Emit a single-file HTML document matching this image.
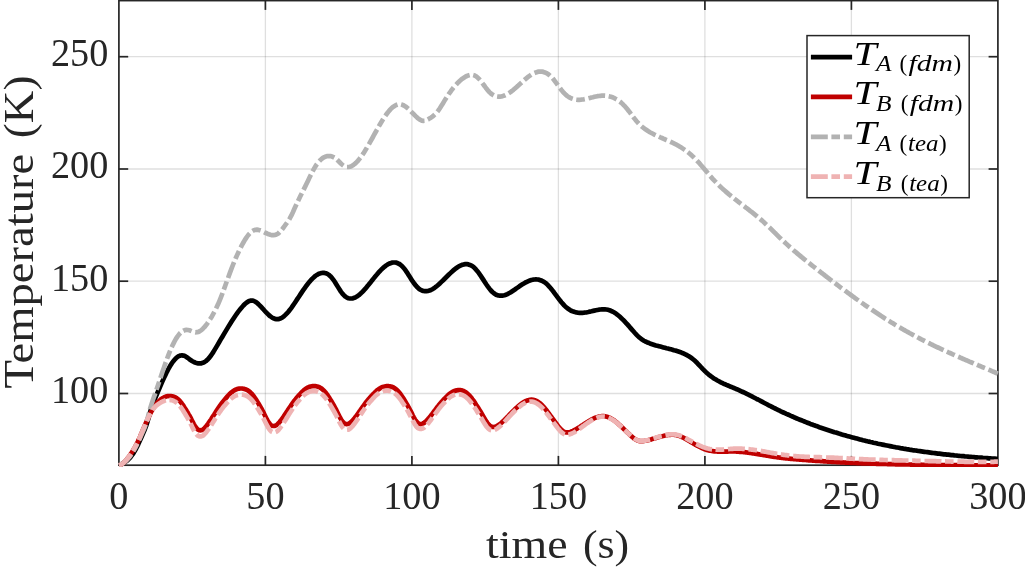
<!DOCTYPE html>
<html lang="en"><head><meta charset="utf-8"><title>Temperature vs time</title>
<style>html,body{margin:0;padding:0;background:#fff;}body{width:1025px;height:569px;overflow:hidden;}</style>
</head><body>
<svg width="1025" height="569" viewBox="0 0 1025 569" style="display:block;font-family:'Liberation Serif',serif">
<rect width="1025" height="569" fill="#fff"/>
<defs><clipPath id="ax"><rect x="117.9" y="-0.4" width="881.0" height="467.4"/></clipPath></defs>
<g stroke="#262626" stroke-opacity="0.15" stroke-width="1.3">
<line x1="265.4" y1="0.6" x2="265.4" y2="465.2"/>
<line x1="411.9" y1="0.6" x2="411.9" y2="465.2"/>
<line x1="558.4" y1="0.6" x2="558.4" y2="465.2"/>
<line x1="704.9" y1="0.6" x2="704.9" y2="465.2"/>
<line x1="851.4" y1="0.6" x2="851.4" y2="465.2"/>
<line x1="118.9" y1="393.5" x2="997.9" y2="393.5"/>
<line x1="118.9" y1="281.2" x2="997.9" y2="281.2"/>
<line x1="118.9" y1="169.0" x2="997.9" y2="169.0"/>
<line x1="118.9" y1="56.7" x2="997.9" y2="56.7"/>
</g>
<g stroke="#262626" stroke-width="1.7" fill="none">
<rect x="118.9" y="0.6" width="879.0" height="464.59999999999997"/>
<line x1="265.4" y1="465.2" x2="265.4" y2="455.9"/>
<line x1="265.4" y1="0.6" x2="265.4" y2="9.9"/>
<line x1="411.9" y1="465.2" x2="411.9" y2="455.9"/>
<line x1="411.9" y1="0.6" x2="411.9" y2="9.9"/>
<line x1="558.4" y1="465.2" x2="558.4" y2="455.9"/>
<line x1="558.4" y1="0.6" x2="558.4" y2="9.9"/>
<line x1="704.9" y1="465.2" x2="704.9" y2="455.9"/>
<line x1="704.9" y1="0.6" x2="704.9" y2="9.9"/>
<line x1="851.4" y1="465.2" x2="851.4" y2="455.9"/>
<line x1="851.4" y1="0.6" x2="851.4" y2="9.9"/>
<line x1="118.9" y1="393.5" x2="128.20000000000002" y2="393.5"/>
<line x1="997.9" y1="393.5" x2="988.6" y2="393.5"/>
<line x1="118.9" y1="281.2" x2="128.20000000000002" y2="281.2"/>
<line x1="997.9" y1="281.2" x2="988.6" y2="281.2"/>
<line x1="118.9" y1="169.0" x2="128.20000000000002" y2="169.0"/>
<line x1="997.9" y1="169.0" x2="988.6" y2="169.0"/>
<line x1="118.9" y1="56.7" x2="128.20000000000002" y2="56.7"/>
<line x1="997.9" y1="56.7" x2="988.6" y2="56.7"/>
</g>
<g fill="none" stroke-linejoin="round" clip-path="url(#ax)">
<path d="M118.9,465.2 L120.4,464.6 L121.9,463.9 L123.4,463.1 L124.9,462.2 L126.4,461.1 L127.9,459.9 L129.4,458.4 L130.9,456.7 L132.4,454.7 L133.9,452.4 L135.4,449.8 L136.9,447.0 L138.4,443.9 L139.9,440.6 L141.4,437.3 L142.9,433.8 L144.4,430.3 L145.9,426.4 L147.4,421.9 L148.9,416.5 L150.4,411.2 L151.9,406.6 L153.4,402.6 L154.9,398.9 L156.4,395.3 L157.9,391.8 L159.4,388.3 L160.9,384.8 L162.4,381.4 L163.9,378.1 L165.4,374.9 L166.9,371.8 L168.4,369.0 L169.9,366.3 L171.4,363.9 L172.9,361.7 L174.4,359.9 L175.9,358.3 L177.4,357.0 L178.9,356.1 L180.4,355.5 L181.9,355.4 L183.4,355.6 L184.9,356.1 L186.4,357.0 L187.9,358.0 L189.4,359.2 L190.9,360.2 L192.4,361.2 L193.9,362.0 L195.4,362.7 L196.9,363.1 L198.4,363.4 L199.9,363.4 L201.4,363.3 L202.9,362.8 L204.4,362.1 L205.9,361.1 L207.4,359.8 L208.9,358.2 L210.4,356.3 L211.9,354.2 L213.4,351.9 L214.9,349.4 L216.4,346.9 L217.9,344.3 L219.4,341.8 L220.9,339.2 L222.4,336.7 L223.9,334.1 L225.4,331.6 L226.9,329.1 L228.4,326.6 L229.9,324.2 L231.4,321.8 L232.9,319.5 L234.4,317.2 L235.9,315.0 L237.4,312.9 L238.9,310.9 L240.4,309.0 L241.9,307.2 L243.4,305.5 L244.9,304.0 L246.4,302.7 L247.9,301.7 L249.4,301.0 L250.9,300.6 L252.4,300.6 L253.9,301.0 L255.4,301.8 L256.9,302.8 L258.4,304.1 L259.9,305.6 L261.4,307.2 L262.9,308.8 L264.4,310.5 L265.9,312.1 L267.4,313.6 L268.9,315.1 L270.4,316.4 L271.9,317.4 L273.4,318.3 L274.9,318.9 L276.4,319.2 L277.9,319.2 L279.4,318.9 L280.9,318.3 L282.4,317.4 L283.9,316.3 L285.4,314.9 L286.9,313.4 L288.4,311.7 L289.9,309.8 L291.4,307.8 L292.9,305.7 L294.4,303.5 L295.9,301.2 L297.4,298.9 L298.9,296.7 L300.4,294.4 L301.9,292.1 L303.4,289.9 L304.9,287.8 L306.4,285.7 L307.9,283.8 L309.4,281.9 L310.9,280.2 L312.4,278.6 L313.9,277.2 L315.4,275.9 L316.9,274.9 L318.4,274.0 L319.9,273.4 L321.4,273.0 L322.9,272.8 L324.4,272.9 L325.9,273.3 L327.4,273.9 L328.9,274.9 L330.4,276.2 L331.9,277.8 L333.4,279.8 L334.9,282.0 L336.4,284.4 L337.9,286.9 L339.4,289.3 L340.9,291.6 L342.4,293.6 L343.9,295.3 L345.4,296.6 L346.9,297.6 L348.4,298.2 L349.9,298.5 L351.4,298.5 L352.9,298.3 L354.4,297.8 L355.9,297.1 L357.4,296.2 L358.9,295.1 L360.4,293.8 L361.9,292.4 L363.4,290.8 L364.9,289.2 L366.4,287.4 L367.9,285.6 L369.4,283.7 L370.9,281.9 L372.4,280.0 L373.9,278.1 L375.4,276.2 L376.9,274.5 L378.4,272.7 L379.9,271.1 L381.4,269.5 L382.9,268.1 L384.4,266.8 L385.9,265.6 L387.4,264.6 L388.9,263.8 L390.4,263.2 L391.9,262.7 L393.4,262.5 L394.9,262.5 L396.4,262.7 L397.9,263.3 L399.4,264.0 L400.9,265.1 L402.4,266.5 L403.9,268.2 L405.4,270.2 L406.9,272.3 L408.4,274.7 L409.9,277.0 L411.4,279.4 L412.9,281.7 L414.4,283.8 L415.9,285.7 L417.4,287.3 L418.9,288.7 L420.4,289.7 L421.9,290.5 L423.4,291.0 L424.9,291.2 L426.4,291.2 L427.9,291.0 L429.4,290.6 L430.9,290.0 L432.4,289.2 L433.9,288.3 L435.4,287.2 L436.9,286.0 L438.4,284.7 L439.9,283.4 L441.4,281.9 L442.9,280.5 L444.4,279.0 L445.9,277.5 L447.4,276.0 L448.9,274.5 L450.4,273.1 L451.9,271.7 L453.4,270.4 L454.9,269.1 L456.4,268.0 L457.9,267.0 L459.4,266.1 L460.9,265.4 L462.4,264.8 L463.9,264.4 L465.4,264.2 L466.9,264.2 L468.4,264.4 L469.9,264.9 L471.4,265.6 L472.9,266.5 L474.4,267.8 L475.9,269.4 L477.4,271.2 L478.9,273.2 L480.4,275.3 L481.9,277.6 L483.4,279.9 L484.9,282.2 L486.4,284.5 L487.9,286.6 L489.4,288.6 L490.9,290.5 L492.4,292.0 L493.9,293.3 L495.4,294.3 L496.9,295.0 L498.4,295.5 L499.9,295.7 L501.4,295.7 L502.9,295.6 L504.4,295.2 L505.9,294.7 L507.4,294.1 L508.9,293.3 L510.4,292.5 L511.9,291.5 L513.4,290.5 L514.9,289.5 L516.4,288.4 L517.9,287.4 L519.4,286.3 L520.9,285.3 L522.4,284.3 L523.9,283.4 L525.4,282.5 L526.9,281.8 L528.4,281.1 L529.9,280.5 L531.4,280.0 L532.9,279.7 L534.4,279.5 L535.9,279.4 L537.4,279.5 L538.9,279.7 L540.4,280.2 L541.9,280.8 L543.4,281.6 L544.9,282.5 L546.4,283.7 L547.9,285.2 L549.4,286.8 L550.9,288.5 L552.4,290.4 L553.9,292.3 L555.4,294.3 L556.9,296.3 L558.4,298.3 L559.9,300.3 L561.4,302.2 L562.9,303.9 L564.4,305.6 L565.9,307.0 L567.4,308.3 L568.9,309.3 L570.4,310.3 L571.9,311.0 L573.4,311.6 L574.9,312.1 L576.4,312.5 L577.9,312.7 L579.4,312.8 L580.9,312.9 L582.4,312.8 L583.9,312.7 L585.4,312.5 L586.9,312.3 L588.4,312.0 L589.9,311.6 L591.4,311.3 L592.9,310.9 L594.4,310.6 L595.9,310.3 L597.4,310.0 L598.9,309.7 L600.4,309.5 L601.9,309.4 L603.4,309.3 L604.9,309.4 L606.4,309.5 L607.9,309.8 L609.4,310.2 L610.9,310.8 L612.4,311.5 L613.9,312.3 L615.4,313.2 L616.9,314.3 L618.4,315.5 L619.9,316.8 L621.4,318.2 L622.9,319.6 L624.4,321.2 L625.9,322.8 L627.4,324.4 L628.9,326.1 L630.4,327.9 L631.9,329.6 L633.4,331.3 L634.9,333.0 L636.4,334.6 L637.9,336.1 L639.4,337.5 L640.9,338.7 L642.4,339.8 L643.9,340.7 L645.4,341.5 L646.9,342.2 L648.4,342.8 L649.9,343.4 L651.4,343.9 L652.9,344.4 L654.4,344.9 L655.9,345.4 L657.4,345.8 L658.9,346.2 L660.4,346.6 L661.9,347.0 L663.4,347.4 L664.9,347.8 L666.4,348.2 L667.9,348.5 L669.4,348.9 L670.9,349.3 L672.4,349.7 L673.9,350.2 L675.4,350.6 L676.9,351.1 L678.4,351.6 L679.9,352.1 L681.4,352.6 L682.9,353.2 L684.4,353.9 L685.9,354.6 L687.4,355.4 L688.9,356.3 L690.4,357.3 L691.9,358.3 L693.4,359.5 L694.9,360.8 L696.4,362.2 L697.9,363.8 L699.4,365.4 L700.9,367.0 L702.4,368.6 L703.9,370.1 L705.4,371.6 L706.9,373.0 L708.4,374.3 L709.9,375.5 L711.4,376.6 L712.9,377.7 L714.4,378.7 L715.9,379.6 L717.4,380.5 L718.9,381.3 L720.4,382.1 L721.9,382.8 L723.4,383.6 L724.9,384.2 L726.4,384.9 L727.9,385.5 L729.4,386.1 L730.9,386.8 L732.4,387.4 L733.9,388.0 L735.4,388.6 L736.9,389.3 L738.4,389.9 L739.9,390.6 L741.4,391.3 L742.9,392.0 L744.4,392.7 L745.9,393.4 L747.4,394.2 L748.9,394.9 L750.4,395.7 L751.9,396.4 L753.4,397.2 L754.9,398.0 L756.4,398.8 L757.9,399.5 L759.4,400.3 L760.9,401.1 L762.4,401.9 L763.9,402.7 L765.4,403.5 L766.9,404.3 L768.4,405.1 L769.9,405.8 L771.4,406.6 L772.9,407.4 L774.4,408.1 L775.9,408.9 L777.4,409.6 L778.9,410.3 L780.4,411.1 L781.9,411.8 L783.4,412.5 L784.9,413.2 L786.4,413.9 L787.9,414.5 L789.4,415.2 L790.9,415.9 L792.4,416.5 L793.9,417.2 L795.4,417.8 L796.9,418.5 L798.4,419.1 L799.9,419.7 L801.4,420.3 L802.9,420.9 L804.4,421.5 L805.9,422.1 L807.4,422.7 L808.9,423.3 L810.4,423.9 L811.9,424.4 L813.4,425.0 L814.9,425.5 L816.4,426.1 L817.9,426.6 L819.4,427.2 L820.9,427.7 L822.4,428.2 L823.9,428.7 L825.4,429.2 L826.9,429.7 L828.4,430.2 L829.9,430.7 L831.4,431.2 L832.9,431.7 L834.4,432.2 L835.9,432.6 L837.4,433.1 L838.9,433.6 L840.4,434.0 L841.9,434.5 L843.4,434.9 L844.9,435.3 L846.4,435.8 L847.9,436.2 L849.4,436.6 L850.9,437.0 L852.4,437.4 L853.9,437.8 L855.4,438.2 L856.9,438.6 L858.4,439.0 L859.9,439.4 L861.4,439.8 L862.9,440.2 L864.4,440.5 L865.9,440.9 L867.4,441.3 L868.9,441.6 L870.4,442.0 L871.9,442.3 L873.4,442.7 L874.9,443.0 L876.4,443.3 L877.9,443.7 L879.4,444.0 L880.9,444.3 L882.4,444.6 L883.9,444.9 L885.4,445.2 L886.9,445.5 L888.4,445.8 L889.9,446.1 L891.4,446.4 L892.9,446.7 L894.4,447.0 L895.9,447.3 L897.4,447.5 L898.9,447.8 L900.4,448.1 L901.9,448.3 L903.4,448.6 L904.9,448.8 L906.4,449.1 L907.9,449.3 L909.4,449.6 L910.9,449.8 L912.4,450.1 L913.9,450.3 L915.4,450.5 L916.9,450.7 L918.4,451.0 L919.9,451.2 L921.4,451.4 L922.9,451.6 L924.4,451.8 L925.9,452.0 L927.4,452.2 L928.9,452.4 L930.4,452.6 L931.9,452.8 L933.4,453.0 L934.9,453.2 L936.4,453.4 L937.9,453.6 L939.4,453.7 L940.9,453.9 L942.4,454.1 L943.9,454.3 L945.4,454.4 L946.9,454.6 L948.4,454.7 L949.9,454.9 L951.4,455.1 L952.9,455.2 L954.4,455.4 L955.9,455.5 L957.4,455.7 L958.9,455.8 L960.4,456.0 L961.9,456.1 L963.4,456.2 L964.9,456.4 L966.4,456.5 L967.9,456.6 L969.4,456.8 L970.9,456.9 L972.4,457.0 L973.9,457.1 L975.4,457.3 L976.9,457.4 L978.4,457.5 L979.9,457.6 L981.4,457.7 L982.9,457.9 L984.4,458.0 L985.9,458.1 L987.4,458.2 L988.9,458.3 L990.4,458.4 L991.9,458.5 L993.4,458.6 L994.9,458.7 L996.4,458.8 L997.9,458.9" stroke="#000" stroke-width="4.7"/>
<path d="M118.9,465.2 L119.9,465.0 L120.9,464.6 L121.9,464.1 L122.9,463.4 L123.9,462.5 L124.9,461.6 L125.9,460.5 L126.9,459.3 L127.9,458.0 L128.9,456.7 L129.9,455.3 L130.9,453.8 L131.9,452.3 L132.9,450.7 L133.9,449.1 L134.9,447.3 L135.9,445.5 L136.9,443.5 L137.9,441.5 L138.9,439.3 L139.9,437.1 L140.9,434.7 L141.9,432.4 L142.9,430.0 L143.9,427.6 L144.9,425.3 L145.9,422.9 L146.9,420.7 L147.9,418.5 L148.9,416.4 L149.9,414.4 L150.9,412.4 L151.9,410.6 L152.9,408.9 L153.9,407.3 L154.9,405.9 L155.9,404.5 L156.9,403.3 L157.9,402.1 L158.9,401.1 L159.9,400.2 L160.9,399.3 L161.9,398.6 L162.9,398.0 L163.9,397.4 L164.9,397.0 L165.9,396.6 L166.9,396.3 L167.9,396.1 L168.9,396.0 L169.8,396.0 L170.8,396.0 L171.8,396.2 L172.8,396.4 L173.8,396.7 L174.8,397.1 L175.8,397.6 L176.8,398.3 L177.8,399.1 L178.8,400.0 L179.8,401.0 L180.8,402.2 L181.8,403.5 L182.8,404.9 L183.8,406.4 L184.8,408.0 L185.8,409.5 L186.8,411.2 L187.8,412.8 L188.8,414.6 L189.8,416.3 L190.8,418.2 L191.8,420.2 L192.8,422.1 L193.8,424.1 L194.8,425.8 L195.8,427.3 L196.8,428.6 L197.8,429.5 L198.8,430.1 L199.8,430.3 L200.2,430.3 L201.2,430.2 L202.2,429.9 L203.2,429.3 L204.2,428.4 L205.2,427.4 L206.2,426.2 L207.2,424.9 L208.2,423.6 L209.2,422.1 L210.2,420.7 L211.2,419.2 L212.2,417.6 L213.2,416.0 L214.2,414.5 L215.2,412.9 L216.2,411.3 L217.2,409.8 L218.2,408.3 L219.2,406.8 L220.2,405.4 L221.2,404.0 L222.2,402.7 L223.2,401.4 L224.2,400.2 L225.2,399.0 L226.2,397.8 L227.2,396.7 L228.2,395.6 L229.2,394.5 L230.2,393.5 L231.2,392.6 L232.2,391.8 L233.2,391.0 L234.2,390.4 L235.2,389.9 L236.2,389.4 L237.2,389.1 L238.2,388.8 L239.2,388.6 L240.2,388.5 L241.2,388.5 L241.3,388.5 L242.3,388.5 L243.3,388.7 L244.3,388.9 L245.3,389.2 L246.3,389.6 L247.3,390.1 L248.3,390.7 L249.3,391.4 L250.3,392.3 L251.3,393.3 L252.3,394.4 L253.3,395.7 L254.3,397.1 L255.3,398.5 L256.3,400.1 L257.3,401.7 L258.3,403.3 L259.3,405.0 L260.3,406.7 L261.3,408.4 L262.3,410.3 L263.3,412.2 L264.3,414.2 L265.3,416.2 L266.3,418.2 L267.3,420.1 L268.3,421.8 L269.3,423.3 L270.3,424.5 L271.3,425.3 L272.3,425.8 L273.3,426.0 L273.6,426.0 L274.6,425.9 L275.6,425.6 L276.6,425.0 L277.6,424.2 L278.6,423.1 L279.6,422.0 L280.6,420.7 L281.6,419.4 L282.6,418.0 L283.6,416.6 L284.6,415.1 L285.6,413.6 L286.6,412.1 L287.6,410.6 L288.6,409.0 L289.6,407.5 L290.6,406.1 L291.6,404.6 L292.6,403.2 L293.6,401.8 L294.6,400.5 L295.6,399.3 L296.6,398.0 L297.6,396.8 L298.6,395.7 L299.6,394.6 L300.6,393.5 L301.6,392.4 L302.6,391.4 L303.6,390.5 L304.6,389.6 L305.6,388.9 L306.6,388.2 L307.6,387.6 L308.6,387.2 L309.6,386.8 L310.6,386.5 L311.6,386.3 L312.6,386.2 L313.6,386.1 L314.1,386.1 L315.1,386.1 L316.1,386.3 L317.1,386.5 L318.1,386.8 L319.1,387.2 L320.1,387.7 L321.1,388.3 L322.1,389.0 L323.1,389.9 L324.1,390.9 L325.1,392.0 L326.1,393.3 L327.1,394.6 L328.1,396.1 L329.1,397.6 L330.1,399.2 L331.1,400.8 L332.1,402.5 L333.1,404.2 L334.1,406.0 L335.1,407.8 L336.1,409.7 L337.1,411.7 L338.1,413.7 L339.1,415.7 L340.1,417.7 L341.1,419.4 L342.1,421.0 L343.1,422.2 L344.1,423.2 L345.1,423.8 L346.1,424.1 L346.7,424.1 L347.7,424.0 L348.7,423.7 L349.7,423.2 L350.7,422.4 L351.7,421.4 L352.7,420.4 L353.7,419.2 L354.7,418.0 L355.7,416.7 L356.7,415.4 L357.7,414.0 L358.7,412.6 L359.7,411.2 L360.7,409.7 L361.7,408.3 L362.7,406.9 L363.7,405.5 L364.7,404.1 L365.7,402.8 L366.7,401.5 L367.7,400.3 L368.7,399.1 L369.7,397.9 L370.7,396.8 L371.7,395.7 L372.7,394.7 L373.7,393.6 L374.7,392.6 L375.7,391.7 L376.7,390.7 L377.7,389.9 L378.7,389.2 L379.7,388.5 L380.7,387.9 L381.7,387.4 L382.7,387.0 L383.7,386.7 L384.7,386.5 L385.7,386.3 L386.7,386.2 L387.7,386.2 L387.8,386.2 L388.8,386.2 L389.8,386.4 L390.8,386.6 L391.8,386.8 L392.8,387.2 L393.8,387.7 L394.8,388.3 L395.8,389.1 L396.8,389.9 L397.8,390.9 L398.8,392.0 L399.8,393.2 L400.8,394.6 L401.8,396.0 L402.8,397.5 L403.8,399.1 L404.8,400.7 L405.8,402.4 L406.8,404.1 L407.8,405.8 L408.8,407.6 L409.8,409.5 L410.8,411.4 L411.8,413.4 L412.8,415.5 L413.8,417.4 L414.8,419.2 L415.8,420.7 L416.8,422.0 L417.8,423.0 L418.8,423.7 L419.8,424.0 L420.6,424.1 L421.6,424.0 L422.6,423.7 L423.6,423.2 L424.6,422.5 L425.6,421.6 L426.6,420.6 L427.6,419.5 L428.6,418.4 L429.6,417.2 L430.6,416.0 L431.6,414.7 L432.6,413.4 L433.6,412.0 L434.6,410.7 L435.6,409.4 L436.6,408.0 L437.6,406.7 L438.6,405.5 L439.6,404.2 L440.6,403.0 L441.6,401.9 L442.6,400.8 L443.6,399.7 L444.6,398.6 L445.6,397.6 L446.6,396.6 L447.6,395.6 L448.6,394.7 L449.6,393.9 L450.6,393.1 L451.6,392.4 L452.6,391.8 L453.6,391.3 L454.6,390.9 L455.6,390.6 L456.6,390.4 L457.6,390.2 L458.6,390.1 L459.3,390.1 L460.3,390.2 L461.3,390.3 L462.3,390.6 L463.3,390.9 L464.3,391.4 L465.3,392.0 L466.3,392.7 L467.3,393.5 L468.3,394.4 L469.3,395.4 L470.3,396.5 L471.3,397.7 L472.3,399.1 L473.3,400.4 L474.3,401.9 L475.3,403.4 L476.3,405.0 L477.3,406.5 L478.3,408.1 L479.3,409.7 L480.3,411.3 L481.3,413.0 L482.3,414.7 L483.3,416.4 L484.3,418.1 L485.3,419.8 L486.3,421.4 L487.3,422.9 L488.3,424.1 L489.3,425.2 L490.3,426.0 L491.3,426.6 L492.3,426.9 L493.2,427.0 L494.2,426.9 L495.2,426.7 L496.2,426.4 L497.2,425.9 L498.2,425.2 L499.2,424.6 L500.2,423.8 L501.2,423.0 L502.2,422.1 L503.2,421.1 L504.2,420.2 L505.2,419.2 L506.2,418.2 L507.2,417.1 L508.2,416.1 L509.2,415.0 L510.2,414.0 L511.2,413.0 L512.2,411.9 L513.2,410.9 L514.2,410.0 L515.2,409.0 L516.2,408.1 L517.2,407.2 L518.2,406.3 L519.2,405.4 L520.2,404.6 L521.2,403.8 L522.2,403.1 L523.2,402.4 L524.2,401.8 L525.2,401.3 L526.2,400.9 L527.2,400.5 L528.2,400.2 L529.2,399.9 L530.2,399.8 L531.2,399.7 L531.8,399.7 L532.8,399.8 L533.8,399.9 L534.8,400.2 L535.8,400.6 L536.8,401.1 L537.8,401.7 L538.8,402.4 L539.8,403.1 L540.8,404.0 L541.8,405.0 L542.8,406.0 L543.8,407.1 L544.8,408.3 L545.8,409.5 L546.8,410.8 L547.8,412.1 L548.8,413.4 L549.8,414.8 L550.8,416.2 L551.8,417.5 L552.8,418.9 L553.8,420.3 L554.8,421.6 L555.8,423.0 L556.8,424.3 L557.8,425.7 L558.8,426.9 L559.8,428.1 L560.8,429.2 L561.8,430.1 L562.8,430.9 L563.8,431.6 L564.8,432.0 L565.8,432.3 L566.8,432.4 L566.9,432.4 L567.9,432.4 L568.9,432.2 L569.9,432.0 L570.9,431.7 L571.9,431.3 L572.9,430.9 L573.9,430.4 L574.9,429.9 L575.9,429.3 L576.9,428.7 L577.9,428.1 L578.9,427.5 L579.9,426.9 L580.9,426.2 L581.9,425.5 L582.9,424.9 L583.9,424.2 L584.9,423.6 L585.9,422.9 L586.9,422.3 L587.9,421.7 L588.9,421.1 L589.9,420.5 L590.9,419.9 L591.9,419.4 L592.9,418.9 L593.9,418.4 L594.9,417.9 L595.9,417.5 L596.9,417.2 L597.9,416.9 L598.9,416.6 L599.9,416.5 L600.9,416.3 L601.9,416.2 L602.9,416.2 L603.9,416.2 L604.9,416.3 L605.9,416.5 L606.9,416.8 L607.9,417.1 L608.9,417.5 L609.9,417.9 L610.9,418.4 L611.9,419.0 L612.9,419.6 L613.9,420.3 L614.9,421.0 L615.9,421.8 L616.9,422.6 L617.9,423.5 L618.9,424.4 L619.9,425.3 L620.9,426.2 L621.9,427.2 L622.9,428.1 L623.9,429.1 L624.9,430.1 L625.9,431.0 L626.9,432.0 L627.9,432.9 L628.9,433.9 L629.9,434.8 L630.9,435.8 L631.9,436.7 L632.9,437.5 L633.9,438.3 L634.9,439.1 L635.9,439.7 L636.9,440.2 L637.9,440.6 L638.9,440.9 L639.9,441.1 L640.9,441.2 L641.1,441.2 L642.1,441.2 L643.1,441.1 L644.1,441.0 L645.1,440.8 L646.1,440.6 L647.1,440.4 L648.1,440.2 L649.1,439.9 L650.1,439.7 L651.1,439.4 L652.1,439.1 L653.1,438.8 L654.1,438.5 L655.1,438.2 L656.1,437.9 L657.1,437.6 L658.1,437.3 L659.1,437.0 L660.1,436.7 L661.1,436.5 L662.1,436.2 L663.1,436.0 L664.1,435.7 L665.1,435.5 L666.1,435.3 L667.1,435.1 L668.1,435.0 L669.1,434.9 L670.1,434.8 L671.1,434.7 L672.1,434.7 L672.7,434.7 L673.7,434.7 L674.7,434.8 L675.7,435.0 L676.7,435.2 L677.7,435.5 L678.7,435.8 L679.7,436.1 L680.7,436.5 L681.7,437.0 L682.7,437.4 L683.7,437.9 L684.7,438.4 L685.7,439.0 L686.7,439.6 L687.7,440.1 L688.7,440.7 L689.7,441.3 L690.7,441.9 L691.7,442.5 L692.7,443.1 L693.7,443.7 L694.7,444.3 L695.7,444.9 L696.7,445.4 L697.7,446.0 L698.7,446.5 L699.7,447.0 L700.7,447.5 L701.7,448.0 L702.7,448.4 L703.7,448.8 L704.7,449.2 L705.7,449.6 L706.7,449.9 L707.7,450.1 L708.7,450.4 L709.7,450.6 L710.7,450.8 L711.7,451.0 L712.7,451.1 L713.7,451.3 L714.7,451.4 L715.7,451.5 L716.7,451.5 L717.7,451.6 L718.7,451.6 L719.7,451.6 L720.7,451.6 L721.7,451.6 L722.7,451.6 L723.7,451.6 L724.7,451.6 L725.7,451.6 L726.7,451.6 L727.7,451.6 L728.7,451.5 L729.7,451.5 L730.7,451.5 L731.7,451.5 L732.7,451.5 L733.7,451.5 L734.7,451.5 L735.7,451.5 L736.7,451.6 L737.7,451.6 L738.7,451.7 L739.7,451.8 L740.7,451.8 L741.7,451.9 L742.7,452.0 L743.7,452.1 L744.7,452.2 L745.7,452.3 L746.7,452.5 L747.7,452.6 L748.7,452.7 L749.7,452.9 L750.7,453.0 L751.7,453.2 L752.7,453.3 L753.7,453.5 L754.7,453.6 L755.7,453.8 L756.7,453.9 L757.7,454.1 L758.7,454.3 L759.7,454.4 L760.7,454.6 L761.7,454.8 L762.7,455.0 L763.7,455.1 L764.7,455.3 L765.7,455.5 L766.7,455.6 L767.7,455.8 L768.7,456.0 L769.7,456.1 L770.7,456.3 L771.7,456.4 L772.7,456.6 L773.7,456.8 L774.7,456.9 L775.7,457.0 L776.7,457.2 L777.7,457.3 L778.7,457.5 L779.7,457.6 L780.7,457.7 L781.7,457.8 L782.7,458.0 L783.7,458.1 L784.7,458.2 L785.7,458.3 L786.7,458.4 L787.7,458.5 L788.7,458.6 L789.7,458.7 L790.7,458.8 L791.7,458.9 L792.7,459.0 L793.7,459.1 L794.7,459.2 L795.7,459.2 L796.7,459.3 L797.7,459.4 L798.7,459.5 L799.7,459.6 L800.7,459.7 L801.7,459.7 L802.7,459.8 L803.7,459.9 L804.7,460.0 L805.7,460.0 L806.7,460.1 L807.7,460.2 L808.7,460.3 L809.7,460.3 L810.7,460.4 L811.7,460.5 L812.7,460.6 L813.7,460.6 L814.7,460.7 L815.7,460.8 L816.7,460.8 L817.7,460.9 L818.7,461.0 L819.7,461.0 L820.7,461.1 L821.7,461.2 L822.7,461.2 L823.7,461.3 L824.7,461.4 L825.7,461.4 L826.7,461.5 L827.7,461.6 L828.7,461.6 L829.7,461.7 L830.7,461.7 L831.7,461.8 L832.7,461.9 L833.7,461.9 L834.7,462.0 L835.7,462.0 L836.7,462.1 L837.7,462.1 L838.7,462.2 L839.7,462.2 L840.7,462.3 L841.7,462.3 L842.7,462.4 L843.7,462.5 L844.7,462.5 L845.7,462.6 L846.7,462.6 L847.7,462.6 L848.7,462.7 L849.7,462.7 L850.7,462.8 L851.7,462.8 L852.7,462.9 L853.7,462.9 L854.7,463.0 L855.7,463.0 L856.7,463.1 L857.7,463.1 L858.7,463.1 L859.7,463.2 L860.7,463.2 L861.7,463.3 L862.7,463.3 L863.7,463.3 L864.7,463.4 L865.7,463.4 L866.7,463.4 L867.7,463.5 L868.7,463.5 L869.7,463.5 L870.7,463.6 L871.7,463.6 L872.7,463.6 L873.7,463.7 L874.7,463.7 L875.7,463.7 L876.7,463.8 L877.7,463.8 L878.7,463.8 L879.7,463.9 L880.7,463.9 L881.7,463.9 L882.7,463.9 L883.7,464.0 L884.7,464.0 L885.7,464.0 L886.7,464.0 L887.7,464.1 L888.7,464.1 L889.7,464.1 L890.7,464.1 L891.7,464.2 L892.7,464.2 L893.7,464.2 L894.7,464.2 L895.7,464.3 L896.7,464.3 L897.7,464.3 L898.7,464.3 L899.7,464.3 L900.7,464.4 L901.7,464.4 L902.7,464.4 L903.7,464.4 L904.7,464.4 L905.7,464.5 L906.7,464.5 L907.7,464.5 L908.7,464.5 L909.7,464.5 L910.7,464.6 L911.7,464.6 L912.7,464.6 L913.7,464.6 L914.7,464.6 L915.7,464.6 L916.7,464.7 L917.7,464.7 L918.7,464.7 L919.7,464.7 L920.7,464.7 L921.7,464.8 L922.7,464.8 L923.7,464.8 L924.7,464.8 L925.7,464.8 L926.7,464.8 L927.7,464.8 L928.7,464.9 L929.7,464.9 L930.7,464.9 L931.7,464.9 L932.7,464.9 L933.7,464.9 L934.7,465.0 L935.7,465.0 L936.7,465.0 L937.7,465.0 L938.7,465.0 L939.7,465.0 L940.7,465.0 L941.7,465.0 L942.7,465.1 L943.7,465.1 L944.7,465.1 L945.7,465.1 L946.7,465.1 L947.7,465.1 L948.7,465.1 L949.7,465.1 L950.7,465.2 L951.7,465.2 L952.7,465.2 L953.7,465.2 L954.7,465.2 L955.7,465.2 L956.7,465.2 L957.7,465.2 L958.7,465.2 L959.7,465.2 L960.7,465.2 L961.7,465.2 L962.7,465.3 L963.7,465.3 L964.7,465.3 L965.7,465.3 L966.7,465.3 L967.7,465.3 L968.7,465.3 L969.7,465.3 L970.7,465.3 L971.7,465.3 L972.7,465.3 L973.7,465.3 L974.7,465.3 L975.7,465.3 L976.7,465.3 L977.7,465.3 L978.7,465.3 L979.7,465.3 L980.7,465.3 L981.7,465.3 L982.7,465.3 L983.7,465.3 L984.7,465.3 L985.7,465.3 L986.7,465.3 L987.7,465.3 L988.7,465.3 L989.7,465.3 L990.7,465.3 L991.7,465.3 L992.7,465.3 L993.7,465.3 L994.7,465.3 L995.7,465.3 L996.7,465.3 L997.7,465.3 L997.9,465.3" stroke="#c00000" stroke-width="4.7"/>
<path d="M118.9,465.2 L120.4,464.6 L121.9,463.9 L123.4,462.9 L124.9,461.7 L126.4,460.4 L127.9,458.8 L129.4,457.0 L130.9,455.0 L132.4,452.8 L133.9,450.3 L135.4,447.6 L136.9,444.7 L138.4,441.6 L139.9,438.3 L141.4,434.9 L142.9,431.6 L144.4,428.1 L145.9,424.1 L147.4,419.0 L148.9,413.2 L150.4,407.6 L151.9,402.9 L153.4,398.6 L154.9,394.4 L156.4,390.0 L157.9,385.6 L159.4,381.1 L160.9,376.6 L162.4,372.1 L163.9,367.7 L165.4,363.3 L166.9,359.1 L168.4,355.1 L169.9,351.4 L171.4,347.8 L172.9,344.6 L174.4,341.6 L175.9,338.9 L177.4,336.6 L178.9,334.6 L180.4,332.9 L181.9,331.6 L183.4,330.7 L184.9,330.1 L186.4,329.9 L187.9,330.0 L189.4,330.3 L190.9,330.9 L192.4,331.5 L193.9,332.0 L195.4,332.3 L196.9,332.2 L198.4,331.9 L199.9,331.1 L201.4,330.1 L202.9,328.7 L204.4,327.2 L205.9,325.3 L207.4,323.3 L208.9,321.1 L210.4,318.8 L211.9,316.4 L213.4,313.7 L214.9,310.9 L216.4,307.8 L217.9,304.6 L219.4,301.1 L220.9,297.4 L222.4,293.5 L223.9,289.4 L225.4,285.3 L226.9,281.1 L228.4,277.0 L229.9,272.9 L231.4,268.9 L232.9,265.0 L234.4,261.3 L235.9,257.8 L237.4,254.4 L238.9,251.2 L240.4,248.1 L241.9,245.2 L243.4,242.5 L244.9,239.9 L246.4,237.6 L247.9,235.5 L249.4,233.7 L250.9,232.2 L252.4,231.1 L253.9,230.2 L255.4,229.8 L256.9,229.7 L258.4,229.9 L259.9,230.3 L261.4,230.8 L262.9,231.5 L264.4,232.3 L265.9,233.0 L267.4,233.7 L268.9,234.3 L270.4,234.8 L271.9,235.1 L273.4,235.2 L274.9,235.0 L276.4,234.5 L277.9,233.7 L279.4,232.4 L280.9,230.8 L282.4,229.0 L283.9,227.0 L285.4,224.9 L286.9,222.9 L288.4,220.7 L289.9,218.2 L291.4,215.4 L292.9,212.2 L294.4,208.8 L295.9,205.5 L297.4,202.3 L298.9,199.2 L300.4,196.1 L301.9,193.1 L303.4,190.1 L304.9,187.1 L306.4,184.0 L307.9,180.9 L309.4,177.8 L310.9,174.7 L312.4,171.8 L313.9,169.0 L315.4,166.4 L316.9,164.1 L318.4,162.2 L319.9,160.5 L321.4,159.1 L322.9,157.9 L324.4,157.1 L325.9,156.5 L327.4,156.1 L328.9,156.0 L330.4,156.1 L331.9,156.5 L333.4,157.1 L334.9,157.9 L336.4,159.0 L337.9,160.5 L339.4,162.0 L340.9,163.5 L342.4,164.9 L343.9,165.9 L345.4,166.6 L346.9,167.0 L348.4,167.0 L349.9,166.7 L351.4,166.2 L352.9,165.3 L354.4,164.2 L355.9,162.9 L357.4,161.4 L358.9,159.6 L360.4,157.7 L361.9,155.6 L363.4,153.4 L364.9,151.0 L366.4,148.6 L367.9,146.0 L369.4,143.4 L370.9,140.7 L372.4,138.0 L373.9,135.2 L375.4,132.5 L376.9,129.8 L378.4,127.1 L379.9,124.5 L381.4,122.0 L382.9,119.5 L384.4,117.2 L385.9,115.0 L387.4,113.0 L388.9,111.1 L390.4,109.4 L391.9,107.9 L393.4,106.7 L394.9,105.7 L396.4,104.9 L397.9,104.4 L399.4,104.3 L400.9,104.4 L402.4,104.8 L403.9,105.5 L405.4,106.4 L406.9,107.6 L408.4,108.8 L409.9,110.2 L411.4,111.8 L412.9,113.3 L414.4,114.9 L415.9,116.4 L417.4,117.8 L418.9,119.0 L420.4,119.9 L421.9,120.6 L423.4,120.8 L424.9,120.7 L426.4,120.2 L427.9,119.5 L429.4,118.6 L430.9,117.7 L432.4,116.6 L433.9,115.4 L435.4,114.0 L436.9,112.3 L438.4,110.4 L439.9,108.2 L441.4,105.8 L442.9,103.4 L444.4,100.9 L445.9,98.5 L447.4,96.2 L448.9,93.9 L450.4,91.8 L451.9,89.7 L453.4,87.8 L454.9,86.0 L456.4,84.3 L457.9,82.7 L459.4,81.3 L460.9,79.9 L462.4,78.7 L463.9,77.7 L465.4,76.7 L466.9,76.0 L468.4,75.4 L469.9,75.0 L471.4,74.8 L472.9,75.0 L474.4,75.4 L475.9,76.2 L477.4,77.3 L478.9,78.8 L480.4,80.5 L481.9,82.4 L483.4,84.5 L484.9,86.5 L486.4,88.6 L487.9,90.4 L489.4,92.1 L490.9,93.5 L492.4,94.6 L493.9,95.5 L495.4,96.1 L496.9,96.5 L498.4,96.7 L499.9,96.7 L501.4,96.5 L502.9,96.1 L504.4,95.6 L505.9,94.9 L507.4,94.1 L508.9,93.2 L510.4,92.1 L511.9,91.0 L513.4,89.8 L514.9,88.5 L516.4,87.2 L517.9,85.9 L519.4,84.5 L520.9,83.1 L522.4,81.8 L523.9,80.4 L525.4,79.1 L526.9,77.9 L528.4,76.7 L529.9,75.6 L531.4,74.6 L532.9,73.8 L534.4,73.0 L535.9,72.4 L537.4,71.9 L538.9,71.6 L540.4,71.5 L541.9,71.6 L543.4,71.9 L544.9,72.4 L546.4,73.1 L547.9,74.0 L549.4,75.1 L550.9,76.5 L552.4,78.0 L553.9,79.8 L555.4,81.8 L556.9,83.8 L558.4,85.9 L559.9,88.0 L561.4,90.0 L562.9,91.8 L564.4,93.4 L565.9,94.9 L567.4,96.1 L568.9,97.1 L570.4,97.9 L571.9,98.6 L573.4,99.1 L574.9,99.5 L576.4,99.7 L577.9,99.8 L579.4,99.8 L580.9,99.7 L582.4,99.5 L583.9,99.3 L585.4,99.0 L586.9,98.7 L588.4,98.3 L589.9,97.9 L591.4,97.5 L592.9,97.2 L594.4,96.8 L595.9,96.5 L597.4,96.2 L598.9,96.0 L600.4,95.8 L601.9,95.7 L603.4,95.7 L604.9,95.7 L606.4,95.8 L607.9,96.1 L609.4,96.4 L610.9,96.8 L612.4,97.3 L613.9,97.9 L615.4,98.7 L616.9,99.5 L618.4,100.5 L619.9,101.6 L621.4,102.9 L622.9,104.3 L624.4,105.8 L625.9,107.5 L627.4,109.3 L628.9,111.2 L630.4,113.2 L631.9,115.2 L633.4,117.2 L634.9,119.1 L636.4,121.0 L637.9,122.7 L639.4,124.3 L640.9,125.7 L642.4,127.0 L643.9,128.2 L645.4,129.3 L646.9,130.3 L648.4,131.3 L649.9,132.2 L651.4,133.0 L652.9,133.8 L654.4,134.6 L655.9,135.3 L657.4,136.0 L658.9,136.7 L660.4,137.4 L661.9,138.0 L663.4,138.7 L664.9,139.3 L666.4,140.0 L667.9,140.6 L669.4,141.3 L670.9,142.0 L672.4,142.7 L673.9,143.4 L675.4,144.2 L676.9,144.9 L678.4,145.8 L679.9,146.7 L681.4,147.6 L682.9,148.6 L684.4,149.6 L685.9,150.7 L687.4,151.8 L688.9,153.0 L690.4,154.3 L691.9,155.6 L693.4,157.0 L694.9,158.5 L696.4,160.0 L697.9,161.6 L699.4,163.2 L700.9,165.0 L702.4,166.7 L703.9,168.5 L705.4,170.3 L706.9,172.1 L708.4,173.9 L709.9,175.7 L711.4,177.4 L712.9,179.1 L714.4,180.7 L715.9,182.2 L717.4,183.8 L718.9,185.3 L720.4,186.7 L721.9,188.1 L723.4,189.5 L724.9,190.8 L726.4,192.1 L727.9,193.4 L729.4,194.7 L730.9,195.9 L732.4,197.1 L733.9,198.3 L735.4,199.5 L736.9,200.7 L738.4,201.8 L739.9,203.0 L741.4,204.2 L742.9,205.3 L744.4,206.4 L745.9,207.6 L747.4,208.7 L748.9,209.9 L750.4,211.1 L751.9,212.2 L753.4,213.4 L754.9,214.6 L756.4,215.8 L757.9,217.1 L759.4,218.3 L760.9,219.6 L762.4,220.9 L763.9,222.3 L765.4,223.7 L766.9,225.1 L768.4,226.5 L769.9,227.9 L771.4,229.4 L772.9,230.9 L774.4,232.4 L775.9,233.8 L777.4,235.3 L778.9,236.8 L780.4,238.3 L781.9,239.7 L783.4,241.1 L784.9,242.5 L786.4,243.9 L787.9,245.3 L789.4,246.6 L790.9,247.9 L792.4,249.3 L793.9,250.6 L795.4,251.8 L796.9,253.1 L798.4,254.4 L799.9,255.6 L801.4,256.9 L802.9,258.1 L804.4,259.3 L805.9,260.5 L807.4,261.7 L808.9,262.9 L810.4,264.1 L811.9,265.3 L813.4,266.5 L814.9,267.7 L816.4,268.9 L817.9,270.0 L819.4,271.2 L820.9,272.4 L822.4,273.5 L823.9,274.7 L825.4,275.9 L826.9,277.0 L828.4,278.2 L829.9,279.3 L831.4,280.5 L832.9,281.6 L834.4,282.8 L835.9,283.9 L837.4,285.0 L838.9,286.2 L840.4,287.3 L841.9,288.4 L843.4,289.5 L844.9,290.6 L846.4,291.7 L847.9,292.8 L849.4,293.9 L850.9,295.0 L852.4,296.1 L853.9,297.2 L855.4,298.3 L856.9,299.4 L858.4,300.4 L859.9,301.5 L861.4,302.6 L862.9,303.6 L864.4,304.7 L865.9,305.7 L867.4,306.7 L868.9,307.8 L870.4,308.8 L871.9,309.8 L873.4,310.8 L874.9,311.8 L876.4,312.8 L877.9,313.8 L879.4,314.8 L880.9,315.8 L882.4,316.7 L883.9,317.7 L885.4,318.7 L886.9,319.6 L888.4,320.6 L889.9,321.5 L891.4,322.4 L892.9,323.3 L894.4,324.3 L895.9,325.2 L897.4,326.1 L898.9,327.0 L900.4,327.8 L901.9,328.7 L903.4,329.6 L904.9,330.4 L906.4,331.3 L907.9,332.1 L909.4,333.0 L910.9,333.8 L912.4,334.6 L913.9,335.4 L915.4,336.2 L916.9,337.0 L918.4,337.8 L919.9,338.6 L921.4,339.4 L922.9,340.1 L924.4,340.9 L925.9,341.7 L927.4,342.4 L928.9,343.1 L930.4,343.9 L931.9,344.6 L933.4,345.4 L934.9,346.1 L936.4,346.8 L937.9,347.5 L939.4,348.2 L940.9,348.9 L942.4,349.6 L943.9,350.3 L945.4,351.0 L946.9,351.7 L948.4,352.4 L949.9,353.0 L951.4,353.7 L952.9,354.4 L954.4,355.0 L955.9,355.7 L957.4,356.4 L958.9,357.0 L960.4,357.7 L961.9,358.3 L963.4,359.0 L964.9,359.6 L966.4,360.3 L967.9,360.9 L969.4,361.6 L970.9,362.2 L972.4,362.8 L973.9,363.5 L975.4,364.1 L976.9,364.7 L978.4,365.4 L979.9,366.0 L981.4,366.6 L982.9,367.3 L984.4,367.9 L985.9,368.5 L987.4,369.2 L988.9,369.8 L990.4,370.4 L991.9,371.1 L993.4,371.7 L994.9,372.3 L996.4,373.0 L997.9,373.6" stroke="#b2b2b2" stroke-width="4.7" stroke-dasharray="16.9 3.6 8.6 3.8"/>
<path d="M118.9,465.2 L119.9,465.0 L120.9,464.6 L121.9,464.1 L122.9,463.4 L123.9,462.5 L124.9,461.6 L125.9,460.5 L126.9,459.3 L127.9,458.0 L128.9,456.7 L129.9,455.3 L130.9,453.8 L131.9,452.3 L132.9,450.7 L133.9,449.0 L134.9,447.3 L135.9,445.5 L136.9,443.5 L137.9,441.5 L138.9,439.3 L139.9,437.1 L140.9,434.8 L141.9,432.4 L142.9,430.0 L143.9,427.6 L144.9,425.3 L145.9,422.9 L146.9,420.7 L147.9,418.5 L148.9,416.4 L149.9,414.4 L150.9,412.6 L151.9,410.9 L152.9,409.4 L153.9,408.1 L154.9,407.0 L155.9,406.0 L156.9,405.2 L157.9,404.4 L158.9,403.7 L159.9,403.1 L160.9,402.4 L161.9,401.9 L162.9,401.4 L163.9,401.0 L164.9,400.6 L165.9,400.3 L166.9,400.1 L167.9,399.9 L168.9,399.9 L169.9,399.9 L170.9,400.1 L171.9,400.3 L172.9,400.6 L173.9,401.0 L174.9,401.5 L175.9,402.2 L176.9,403.0 L177.9,403.9 L178.9,404.9 L179.9,406.1 L180.9,407.4 L181.9,408.8 L182.9,410.3 L183.9,411.9 L184.9,413.5 L185.9,415.2 L186.9,416.9 L187.9,418.6 L188.9,420.4 L189.9,422.3 L190.9,424.3 L191.9,426.3 L192.9,428.4 L193.9,430.3 L194.9,432.1 L195.9,433.6 L196.9,434.8 L197.9,435.7 L198.9,436.2 L199.9,436.4 L200.2,436.4 L201.2,436.3 L202.2,436.0 L203.2,435.4 L204.2,434.5 L205.2,433.4 L206.2,432.2 L207.2,430.9 L208.2,429.6 L209.2,428.2 L210.2,426.7 L211.2,425.1 L212.2,423.6 L213.2,422.0 L214.2,420.4 L215.2,418.8 L216.2,417.2 L217.2,415.7 L218.2,414.2 L219.2,412.7 L220.2,411.3 L221.2,409.9 L222.2,408.6 L223.2,407.3 L224.2,406.1 L225.2,404.9 L226.2,403.7 L227.2,402.6 L228.2,401.5 L229.2,400.4 L230.2,399.4 L231.2,398.5 L232.2,397.7 L233.2,397.0 L234.2,396.3 L235.2,395.8 L236.2,395.4 L237.2,395.1 L238.2,394.9 L239.2,394.7 L240.2,394.6 L241.0,394.6 L242.0,394.6 L243.0,394.8 L244.0,395.0 L245.0,395.2 L246.0,395.6 L247.0,396.1 L248.0,396.7 L249.0,397.4 L250.0,398.3 L251.0,399.2 L252.0,400.3 L253.0,401.5 L254.0,402.9 L255.0,404.3 L256.0,405.8 L257.0,407.3 L258.0,408.9 L259.0,410.6 L260.0,412.2 L261.0,413.9 L262.0,415.7 L263.0,417.6 L264.0,419.5 L265.0,421.5 L266.0,423.5 L267.0,425.4 L268.0,427.2 L269.0,428.8 L270.0,430.1 L271.0,431.2 L272.0,431.9 L273.0,432.3 L274.0,432.4 L275.0,432.3 L276.0,431.9 L277.0,431.3 L278.0,430.4 L279.0,429.3 L280.0,428.1 L281.0,426.7 L282.0,425.3 L283.0,423.9 L284.0,422.3 L285.0,420.8 L286.0,419.2 L287.0,417.5 L288.0,415.9 L289.0,414.3 L290.0,412.7 L291.0,411.2 L292.0,409.7 L293.0,408.2 L294.0,406.8 L295.0,405.4 L296.0,404.1 L297.0,402.8 L298.0,401.6 L299.0,400.4 L300.0,399.2 L301.0,398.1 L302.0,397.0 L303.0,396.0 L304.0,395.0 L305.0,394.2 L306.0,393.5 L307.0,392.8 L308.0,392.3 L309.0,391.9 L310.0,391.6 L311.0,391.3 L312.0,391.2 L313.0,391.1 L313.6,391.1 L314.6,391.1 L315.6,391.3 L316.6,391.5 L317.6,391.7 L318.6,392.1 L319.6,392.6 L320.6,393.2 L321.6,394.0 L322.6,394.8 L323.6,395.8 L324.6,396.9 L325.6,398.1 L326.6,399.4 L327.6,400.9 L328.6,402.4 L329.6,404.0 L330.6,405.6 L331.6,407.3 L332.6,409.0 L333.6,410.7 L334.6,412.5 L335.6,414.3 L336.6,416.3 L337.6,418.3 L338.6,420.4 L339.6,422.3 L340.6,424.2 L341.6,425.9 L342.6,427.3 L343.6,428.4 L344.6,429.2 L345.6,429.6 L346.6,429.8 L346.8,429.8 L347.8,429.7 L348.8,429.4 L349.8,428.8 L350.8,427.9 L351.8,426.9 L352.8,425.8 L353.8,424.5 L354.8,423.2 L355.8,421.8 L356.8,420.4 L357.8,418.9 L358.8,417.4 L359.8,415.9 L360.8,414.4 L361.8,412.9 L362.8,411.4 L363.8,410.0 L364.8,408.5 L365.8,407.1 L366.8,405.8 L367.8,404.5 L368.8,403.3 L369.8,402.1 L370.8,400.9 L371.8,399.8 L372.8,398.7 L373.8,397.6 L374.8,396.5 L375.8,395.6 L376.8,394.7 L377.8,393.9 L378.8,393.1 L379.8,392.5 L380.8,392.0 L381.8,391.6 L382.8,391.2 L383.8,391.0 L384.8,390.8 L385.8,390.7 L386.8,390.7 L387.8,390.7 L388.8,390.8 L389.8,391.0 L390.8,391.3 L391.8,391.7 L392.8,392.2 L393.8,392.7 L394.8,393.4 L395.8,394.2 L396.8,395.1 L397.8,396.2 L398.8,397.3 L399.8,398.6 L400.8,400.0 L401.8,401.4 L402.8,403.0 L403.8,404.5 L404.8,406.1 L405.8,407.8 L406.8,409.4 L407.8,411.1 L408.8,412.9 L409.8,414.8 L410.8,416.7 L411.8,418.7 L412.8,420.6 L413.8,422.5 L414.8,424.2 L415.8,425.7 L416.8,427.0 L417.8,427.9 L418.8,428.5 L419.8,428.8 L420.6,428.9 L421.6,428.8 L422.6,428.5 L423.6,427.9 L424.6,427.2 L425.6,426.2 L426.6,425.2 L427.6,424.1 L428.6,422.9 L429.6,421.6 L430.6,420.3 L431.6,418.9 L432.6,417.5 L433.6,416.2 L434.6,414.8 L435.6,413.4 L436.6,412.0 L437.6,410.7 L438.6,409.3 L439.6,408.1 L440.6,406.8 L441.6,405.6 L442.6,404.5 L443.6,403.4 L444.6,402.3 L445.6,401.2 L446.6,400.2 L447.6,399.2 L448.6,398.3 L449.6,397.5 L450.6,396.7 L451.6,396.1 L452.6,395.6 L453.6,395.1 L454.6,394.8 L455.6,394.5 L456.6,394.3 L457.6,394.2 L458.4,394.2 L459.4,394.3 L460.4,394.4 L461.4,394.7 L462.4,395.0 L463.4,395.5 L464.4,396.1 L465.4,396.7 L466.4,397.5 L467.4,398.4 L468.4,399.4 L469.4,400.5 L470.4,401.7 L471.4,403.0 L472.4,404.4 L473.4,405.8 L474.4,407.3 L475.4,408.8 L476.4,410.3 L477.4,411.9 L478.4,413.5 L479.4,415.1 L480.4,416.7 L481.4,418.3 L482.4,420.0 L483.4,421.7 L484.4,423.4 L485.4,424.9 L486.4,426.4 L487.4,427.6 L488.4,428.6 L489.4,429.4 L490.4,430.0 L491.4,430.2 L492.2,430.3 L493.2,430.2 L494.2,430.0 L495.2,429.6 L496.2,429.1 L497.2,428.5 L498.2,427.7 L499.2,426.9 L500.2,426.1 L501.2,425.2 L502.2,424.2 L503.2,423.2 L504.2,422.1 L505.2,421.1 L506.2,420.0 L507.2,418.9 L508.2,417.8 L509.2,416.7 L510.2,415.6 L511.2,414.6 L512.2,413.5 L513.2,412.5 L514.2,411.5 L515.2,410.5 L516.2,409.6 L517.2,408.7 L518.2,407.8 L519.2,406.9 L520.2,406.1 L521.2,405.3 L522.2,404.6 L523.2,404.0 L524.2,403.4 L525.2,402.9 L526.2,402.5 L527.2,402.2 L528.2,401.9 L529.2,401.7 L530.2,401.6 L531.0,401.6 L532.0,401.7 L533.0,401.8 L534.0,402.1 L535.0,402.5 L536.0,402.9 L537.0,403.5 L538.0,404.2 L539.0,404.9 L540.0,405.8 L541.0,406.7 L542.0,407.7 L543.0,408.8 L544.0,409.9 L545.0,411.1 L546.0,412.4 L547.0,413.7 L548.0,415.0 L549.0,416.3 L550.0,417.7 L551.0,419.0 L552.0,420.4 L553.0,421.7 L554.0,423.1 L555.0,424.4 L556.0,425.8 L557.0,427.1 L558.0,428.4 L559.0,429.6 L560.0,430.8 L561.0,431.8 L562.0,432.7 L563.0,433.4 L564.0,434.0 L565.0,434.4 L566.0,434.6 L566.9,434.7 L567.9,434.7 L568.9,434.5 L569.9,434.3 L570.9,433.9 L571.9,433.5 L572.9,433.0 L573.9,432.5 L574.9,431.9 L575.9,431.3 L576.9,430.6 L577.9,429.9 L578.9,429.2 L579.9,428.5 L580.9,427.8 L581.9,427.0 L582.9,426.3 L583.9,425.6 L584.9,424.8 L585.9,424.1 L586.9,423.4 L587.9,422.7 L588.9,422.0 L589.9,421.4 L590.9,420.8 L591.9,420.1 L592.9,419.6 L593.9,419.0 L594.9,418.5 L595.9,418.1 L596.9,417.7 L597.9,417.4 L598.9,417.1 L599.9,416.9 L600.9,416.7 L601.9,416.6 L602.9,416.6 L603.9,416.6 L604.9,416.7 L605.9,416.9 L606.9,417.2 L607.9,417.5 L608.9,417.9 L609.9,418.3 L610.9,418.8 L611.9,419.3 L612.9,419.9 L613.9,420.6 L614.9,421.3 L615.9,422.1 L616.9,422.9 L617.9,423.7 L618.9,424.6 L619.9,425.5 L620.9,426.4 L621.9,427.3 L622.9,428.3 L623.9,429.2 L624.9,430.1 L625.9,431.1 L626.9,432.0 L627.9,432.9 L628.9,433.9 L629.9,434.8 L630.9,435.7 L631.9,436.6 L632.9,437.4 L633.9,438.2 L634.9,438.9 L635.9,439.5 L636.9,440.0 L637.9,440.4 L638.9,440.7 L639.9,440.9 L640.9,441.0 L641.1,441.0 L642.1,441.0 L643.1,440.9 L644.1,440.8 L645.1,440.6 L646.1,440.4 L647.1,440.2 L648.1,440.0 L649.1,439.7 L650.1,439.4 L651.1,439.1 L652.1,438.8 L653.1,438.5 L654.1,438.2 L655.1,437.9 L656.1,437.6 L657.1,437.3 L658.1,437.0 L659.1,436.7 L660.1,436.4 L661.1,436.1 L662.1,435.9 L663.1,435.6 L664.1,435.4 L665.1,435.1 L666.1,434.9 L667.1,434.8 L668.1,434.6 L669.1,434.5 L670.1,434.4 L671.1,434.3 L672.1,434.3 L672.7,434.3 L673.7,434.3 L674.7,434.4 L675.7,434.6 L676.7,434.8 L677.7,435.0 L678.7,435.3 L679.7,435.6 L680.7,436.0 L681.7,436.4 L682.7,436.8 L683.7,437.2 L684.7,437.7 L685.7,438.2 L686.7,438.7 L687.7,439.3 L688.7,439.8 L689.7,440.3 L690.7,440.9 L691.7,441.4 L692.7,442.0 L693.7,442.5 L694.7,443.1 L695.7,443.6 L696.7,444.1 L697.7,444.6 L698.7,445.1 L699.7,445.6 L700.7,446.0 L701.7,446.5 L702.7,446.9 L703.7,447.2 L704.7,447.6 L705.7,447.9 L706.7,448.2 L707.7,448.5 L708.7,448.7 L709.7,449.0 L710.7,449.2 L711.7,449.3 L712.7,449.4 L713.7,449.5 L714.7,449.6 L715.7,449.7 L716.7,449.7 L717.7,449.7 L718.7,449.7 L719.7,449.7 L720.7,449.7 L721.7,449.6 L722.7,449.6 L723.7,449.5 L724.7,449.4 L725.7,449.3 L726.7,449.3 L727.7,449.2 L728.7,449.1 L729.7,449.0 L730.7,448.9 L731.7,448.8 L732.7,448.8 L733.7,448.7 L734.7,448.7 L735.7,448.7 L736.7,448.6 L737.7,448.6 L738.7,448.6 L739.7,448.6 L740.7,448.7 L741.7,448.7 L742.7,448.8 L743.7,448.8 L744.7,448.9 L745.7,449.0 L746.7,449.0 L747.7,449.1 L748.7,449.2 L749.7,449.3 L750.7,449.5 L751.7,449.6 L752.7,449.7 L753.7,449.8 L754.7,450.0 L755.7,450.1 L756.7,450.3 L757.7,450.4 L758.7,450.6 L759.7,450.7 L760.7,450.9 L761.7,451.1 L762.7,451.3 L763.7,451.4 L764.7,451.6 L765.7,451.8 L766.7,452.0 L767.7,452.2 L768.7,452.3 L769.7,452.5 L770.7,452.7 L771.7,452.9 L772.7,453.1 L773.7,453.2 L774.7,453.4 L775.7,453.6 L776.7,453.8 L777.7,453.9 L778.7,454.1 L779.7,454.2 L780.7,454.4 L781.7,454.5 L782.7,454.7 L783.7,454.8 L784.7,455.0 L785.7,455.1 L786.7,455.2 L787.7,455.3 L788.7,455.5 L789.7,455.6 L790.7,455.7 L791.7,455.8 L792.7,455.9 L793.7,456.0 L794.7,456.1 L795.7,456.2 L796.7,456.3 L797.7,456.3 L798.7,456.4 L799.7,456.5 L800.7,456.5 L801.7,456.6 L802.7,456.7 L803.7,456.7 L804.7,456.8 L805.7,456.8 L806.7,456.9 L807.7,456.9 L808.7,456.9 L809.7,457.0 L810.7,457.0 L811.7,457.0 L812.7,457.1 L813.7,457.1 L814.7,457.1 L815.7,457.1 L816.7,457.2 L817.7,457.2 L818.7,457.2 L819.7,457.2 L820.7,457.3 L821.7,457.3 L822.7,457.3 L823.7,457.4 L824.7,457.4 L825.7,457.4 L826.7,457.5 L827.7,457.5 L828.7,457.5 L829.7,457.6 L830.7,457.6 L831.7,457.6 L832.7,457.7 L833.7,457.7 L834.7,457.8 L835.7,457.8 L836.7,457.9 L837.7,457.9 L838.7,458.0 L839.7,458.0 L840.7,458.1 L841.7,458.1 L842.7,458.2 L843.7,458.2 L844.7,458.3 L845.7,458.3 L846.7,458.4 L847.7,458.4 L848.7,458.5 L849.7,458.6 L850.7,458.6 L851.7,458.7 L852.7,458.7 L853.7,458.8 L854.7,458.8 L855.7,458.9 L856.7,458.9 L857.7,459.0 L858.7,459.0 L859.7,459.1 L860.7,459.1 L861.7,459.2 L862.7,459.2 L863.7,459.3 L864.7,459.3 L865.7,459.3 L866.7,459.4 L867.7,459.4 L868.7,459.5 L869.7,459.5 L870.7,459.5 L871.7,459.6 L872.7,459.6 L873.7,459.7 L874.7,459.7 L875.7,459.7 L876.7,459.8 L877.7,459.8 L878.7,459.8 L879.7,459.9 L880.7,459.9 L881.7,459.9 L882.7,459.9 L883.7,460.0 L884.7,460.0 L885.7,460.0 L886.7,460.1 L887.7,460.1 L888.7,460.1 L889.7,460.1 L890.7,460.2 L891.7,460.2 L892.7,460.2 L893.7,460.2 L894.7,460.3 L895.7,460.3 L896.7,460.3 L897.7,460.3 L898.7,460.4 L899.7,460.4 L900.7,460.4 L901.7,460.4 L902.7,460.5 L903.7,460.5 L904.7,460.5 L905.7,460.5 L906.7,460.6 L907.7,460.6 L908.7,460.6 L909.7,460.6 L910.7,460.6 L911.7,460.7 L912.7,460.7 L913.7,460.7 L914.7,460.7 L915.7,460.8 L916.7,460.8 L917.7,460.8 L918.7,460.8 L919.7,460.9 L920.7,460.9 L921.7,460.9 L922.7,460.9 L923.7,461.0 L924.7,461.0 L925.7,461.0 L926.7,461.0 L927.7,461.0 L928.7,461.1 L929.7,461.1 L930.7,461.1 L931.7,461.1 L932.7,461.2 L933.7,461.2 L934.7,461.2 L935.7,461.2 L936.7,461.3 L937.7,461.3 L938.7,461.3 L939.7,461.3 L940.7,461.3 L941.7,461.4 L942.7,461.4 L943.7,461.4 L944.7,461.4 L945.7,461.4 L946.7,461.5 L947.7,461.5 L948.7,461.5 L949.7,461.5 L950.7,461.5 L951.7,461.6 L952.7,461.6 L953.7,461.6 L954.7,461.6 L955.7,461.6 L956.7,461.6 L957.7,461.7 L958.7,461.7 L959.7,461.7 L960.7,461.7 L961.7,461.7 L962.7,461.7 L963.7,461.7 L964.7,461.8 L965.7,461.8 L966.7,461.8 L967.7,461.8 L968.7,461.8 L969.7,461.8 L970.7,461.8 L971.7,461.8 L972.7,461.8 L973.7,461.8 L974.7,461.8 L975.7,461.8 L976.7,461.8 L977.7,461.8 L978.7,461.8 L979.7,461.8 L980.7,461.8 L981.7,461.8 L982.7,461.8 L983.7,461.8 L984.7,461.8 L985.7,461.8 L986.7,461.8 L987.7,461.8 L988.7,461.8 L989.7,461.8 L990.7,461.8 L991.7,461.8 L992.7,461.8 L993.7,461.8 L994.7,461.7 L995.7,461.7 L996.7,461.7 L997.7,461.7 L997.9,461.7" stroke="#efb3b3" stroke-width="4.7" stroke-dasharray="16.9 3.6 8.6 3.8"/>
</g>
<g fill="#262626" font-size="40px">
<text x="118.9" y="509.2" text-anchor="middle" textLength="19.1" lengthAdjust="spacingAndGlyphs">0</text>
<text x="265.4" y="509.2" text-anchor="middle" textLength="38.2" lengthAdjust="spacingAndGlyphs">50</text>
<text x="411.9" y="509.2" text-anchor="middle" textLength="57.3" lengthAdjust="spacingAndGlyphs">100</text>
<text x="558.4" y="509.2" text-anchor="middle" textLength="57.3" lengthAdjust="spacingAndGlyphs">150</text>
<text x="704.9" y="509.2" text-anchor="middle" textLength="57.3" lengthAdjust="spacingAndGlyphs">200</text>
<text x="851.4" y="509.2" text-anchor="middle" textLength="57.3" lengthAdjust="spacingAndGlyphs">250</text>
<text x="997.9" y="509.2" text-anchor="middle" textLength="57.3" lengthAdjust="spacingAndGlyphs">300</text>
<text x="108.3" y="402.8" text-anchor="end" textLength="57.3" lengthAdjust="spacingAndGlyphs">100</text>
<text x="108.3" y="290.5" text-anchor="end" textLength="57.3" lengthAdjust="spacingAndGlyphs">150</text>
<text x="108.3" y="178.3" text-anchor="end" textLength="57.3" lengthAdjust="spacingAndGlyphs">200</text>
<text x="108.3" y="66.0" text-anchor="end" textLength="57.3" lengthAdjust="spacingAndGlyphs">250</text>
</g>
<g fill="#262626" font-size="41px">
<text x="486.0" y="558" textLength="81.5" lengthAdjust="spacingAndGlyphs">time</text>
<text x="582.9" y="558" textLength="46.2" lengthAdjust="spacingAndGlyphs">(s)</text>
<text transform="translate(32.6,388.6) rotate(-90)" font-size="42.5px" textLength="234.8" lengthAdjust="spacingAndGlyphs">Temperature</text>
<text transform="translate(32.6,138.2) rotate(-90)" font-size="42.5px" textLength="62.6" lengthAdjust="spacingAndGlyphs">(K)</text>
</g>
<rect x="807.0" y="35.6" width="162.20000000000005" height="162.1" fill="#fff" stroke="#262626" stroke-width="1.5"/>
<line x1="810.9" y1="57.1" x2="852.1" y2="57.1" stroke="#000" stroke-width="4.7"/>
<text x="853.5" y="64.6" font-size="33px" font-style="italic" fill="#000" textLength="23.1" lengthAdjust="spacingAndGlyphs">T</text>
<text x="876" y="71.0" font-size="23px" font-style="italic" fill="#000" textLength="15.5" lengthAdjust="spacingAndGlyphs">A</text>
<text x="899.6" y="71.0" font-size="23px" fill="#000">(</text>
<text x="908.5" y="71.0" font-size="23px" font-style="italic" fill="#000" textLength="44.5" lengthAdjust="spacingAndGlyphs">fdm</text>
<text x="953.6" y="71.0" font-size="23px" fill="#000">)</text>
<line x1="810.9" y1="96.9" x2="852.1" y2="96.9" stroke="#c00000" stroke-width="4.7"/>
<text x="853.5" y="104.4" font-size="33px" font-style="italic" fill="#000" textLength="23.1" lengthAdjust="spacingAndGlyphs">T</text>
<text x="876" y="110.8" font-size="23px" font-style="italic" fill="#000" textLength="15.5" lengthAdjust="spacingAndGlyphs">B</text>
<text x="900.8" y="110.8" font-size="23px" fill="#000">(</text>
<text x="909.7" y="110.8" font-size="23px" font-style="italic" fill="#000" textLength="44.5" lengthAdjust="spacingAndGlyphs">fdm</text>
<text x="954.8" y="110.8" font-size="23px" fill="#000">)</text>
<line x1="810.9" y1="136.8" x2="852.1" y2="136.8" stroke="#b2b2b2" stroke-width="4.7" stroke-dasharray="16.9 3.6 8.6 3.8"/>
<text x="853.5" y="144.3" font-size="33px" font-style="italic" fill="#000" textLength="23.1" lengthAdjust="spacingAndGlyphs">T</text>
<text x="876" y="150.7" font-size="23px" font-style="italic" fill="#000" textLength="15.5" lengthAdjust="spacingAndGlyphs">A</text>
<text x="899.6" y="150.7" font-size="23px" fill="#000">(</text>
<text x="908.0" y="150.7" font-size="23px" font-style="italic" fill="#000" textLength="30.5" lengthAdjust="spacingAndGlyphs">tea</text>
<text x="939.0" y="150.7" font-size="23px" fill="#000">)</text>
<line x1="810.9" y1="176.6" x2="852.1" y2="176.6" stroke="#efb3b3" stroke-width="4.7" stroke-dasharray="16.9 3.6 8.6 3.8"/>
<text x="853.5" y="184.1" font-size="33px" font-style="italic" fill="#000" textLength="23.1" lengthAdjust="spacingAndGlyphs">T</text>
<text x="876" y="190.5" font-size="23px" font-style="italic" fill="#000" textLength="15.5" lengthAdjust="spacingAndGlyphs">B</text>
<text x="900.8" y="190.5" font-size="23px" fill="#000">(</text>
<text x="909.2" y="190.5" font-size="23px" font-style="italic" fill="#000" textLength="30.5" lengthAdjust="spacingAndGlyphs">tea</text>
<text x="940.2" y="190.5" font-size="23px" fill="#000">)</text>
</svg>
</body></html>
